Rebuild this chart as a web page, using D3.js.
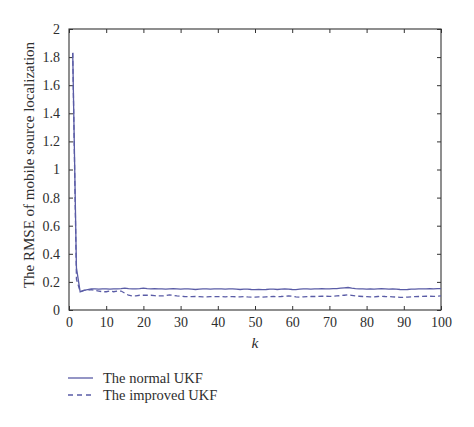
<!DOCTYPE html>
<html><head><meta charset="utf-8">
<script src="https://cdn.jsdelivr.net/npm/d3@7"></script>
<style>body{margin:0;background:#fff}svg{display:block}text{font-family:"Liberation Serif","DejaVu Serif",serif;fill:#2e2e2e}</style>
</head><body>
<svg id="c" width="474" height="427"></svg>
<script>
const kValues = d3.range(1, 101);
const normalUKF = [1.83,0.30,0.13,0.14,0.145,0.15,0.15,0.148,0.15,0.15,0.148,0.15,0.15,0.152,0.155,0.152,0.15,0.15,0.152,0.155,
0.152,0.15,0.152,0.15,0.15,0.148,0.15,0.152,0.15,0.148,0.15,0.15,0.148,0.146,0.148,0.15,0.15,0.148,0.15,0.15,
0.15,0.148,0.15,0.15,0.148,0.146,0.148,0.148,0.146,0.145,0.146,0.145,0.146,0.148,0.148,0.146,0.148,0.15,0.148,0.146,
0.145,0.148,0.15,0.15,0.148,0.15,0.15,0.152,0.15,0.15,0.152,0.152,0.155,0.158,0.16,0.155,0.152,0.15,0.15,0.148,
0.15,0.148,0.15,0.152,0.15,0.148,0.15,0.148,0.146,0.145,0.146,0.148,0.148,0.15,0.15,0.15,0.152,0.15,0.152,0.152];
const improvedUKF = [1.83,0.22,0.13,0.14,0.14,0.145,0.14,0.135,0.13,0.13,0.135,0.13,0.135,0.135,0.12,0.105,0.10,0.10,0.105,0.105,
0.105,0.105,0.102,0.10,0.10,0.102,0.108,0.105,0.10,0.098,0.096,0.095,0.095,0.096,0.095,0.094,0.094,0.095,0.096,0.095,
0.095,0.094,0.095,0.095,0.094,0.094,0.095,0.093,0.092,0.092,0.093,0.092,0.094,0.095,0.096,0.095,0.096,0.098,0.1,0.098,
0.094,0.092,0.094,0.095,0.096,0.096,0.097,0.098,0.098,0.097,0.098,0.1,0.102,0.105,0.108,0.104,0.1,0.098,0.096,0.095,
0.094,0.094,0.096,0.098,0.096,0.095,0.094,0.092,0.09,0.09,0.092,0.093,0.095,0.096,0.097,0.098,0.098,0.097,0.098,0.1];
const xTicks = [0,10,20,30,40,50,60,70,80,90,100];
const yTicks = [0,0.2,0.4,0.6,0.8,1,1.2,1.4,1.6,1.8,2];
const legendLabels = ["The normal UKF","The improved UKF"];
const lineColor = "#5a5ca6";

const svg = d3.select("#c");
const L=69, R=441, T=29, B=310;
const x = d3.scaleLinear().domain([0,100]).range([L,R]);
const y = d3.scaleLinear().domain([0,2]).range([B,T]);

svg.append("rect").attr("x",L).attr("y",T).attr("width",R-L).attr("height",B-T)
  .attr("fill","none").attr("stroke","#333").attr("stroke-width",1.1);

const fmt = d => d===0?"0":(Number.isInteger(d)?String(d):d3.format(".1f")(d));
const axB = svg.append("g").attr("transform",`translate(0,${B})`)
  .call(d3.axisBottom(x).tickValues(xTicks).tickSizeInner(-4).tickSizeOuter(0).tickPadding(7));
const axT = svg.append("g").attr("transform",`translate(0,${T})`)
  .call(d3.axisTop(x).tickValues(xTicks).tickSizeInner(-4).tickSizeOuter(0).tickFormat(""));
const axL = svg.append("g").attr("transform",`translate(${L},0)`)
  .call(d3.axisLeft(y).tickValues(yTicks).tickSizeInner(-4).tickSizeOuter(0).tickPadding(9).tickFormat(fmt));
const axR = svg.append("g").attr("transform",`translate(${R},0)`)
  .call(d3.axisRight(y).tickValues(yTicks).tickSizeInner(-4).tickSizeOuter(0).tickFormat(""));
[axB,axT,axL,axR].forEach(g=>{
  g.select(".domain").remove();
  g.selectAll("line").attr("stroke","#333");
  g.selectAll("text").attr("font-size",14).attr("fill","#2e2e2e").style("font-family",'"Liberation Serif",serif');
});

const line = d3.line().x((d,i)=>x(kValues[i])).y(d=>y(d));
svg.append("path").datum(normalUKF).attr("d",line).attr("fill","none")
  .attr("stroke",lineColor).attr("stroke-width",1.3);
svg.append("path").datum(improvedUKF).attr("d",line).attr("fill","none")
  .attr("stroke",lineColor).attr("stroke-width",1.3).attr("stroke-dasharray","5,3");

svg.append("text").attr("x",(L+R)/2).attr("y",348).attr("text-anchor","middle")
  .attr("font-size",15.5).attr("font-style","italic").text("k");
svg.append("text").attr("transform",`translate(34,165) rotate(-90)`)
  .attr("text-anchor","middle").attr("font-size",15).text("The RMSE of mobile source localization");

const lg = svg.append("g");
legendLabels.forEach((lab,i)=>{
  const yy = 378 + i*17;
  lg.append("line").attr("x1",68).attr("x2",93).attr("y1",yy).attr("y2",yy)
    .attr("stroke",lineColor).attr("stroke-width",1.3)
    .attr("stroke-dasharray", i===1?"5,4":null);
  lg.append("text").attr("x",103).attr("y",yy+4.5).attr("font-size",14.5).text(lab);
});
</script>
</body></html>
